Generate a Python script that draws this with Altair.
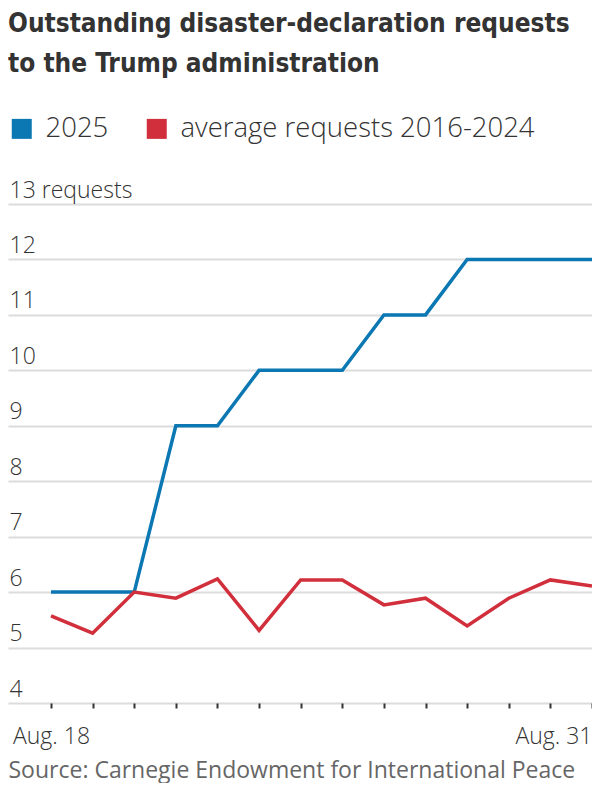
import altair as alt
import pandas as pd

# ---- data ----
days = list(range(18, 32))  # Aug. 18 .. Aug. 31
series_names = ["2025", "average requests 2016-2024"]
values_2025 = [6, 6, 6, 9, 9, 10, 10, 10, 11, 11, 12, 12, 12, 12]
values_avg = [5.57, 5.26, 6.0, 5.89, 6.24, 5.31, 6.22, 6.22, 5.77, 5.89, 5.39, 5.89, 6.22, 6.11]
series_colors = ["#0b78b3", "#d12f3b"]
y_ticks = [4, 5, 6, 7, 8, 9, 10, 11, 12, 13]
x_ticks = days
x_labels = {18: "Aug. 18", 31: "Aug. 31"}
title_lines = ["Outstanding disaster-declaration requests", "to the Trump administration"]
source_text = "Source: Carnegie Endowment for International Peace"

rows = []
for d, v in zip(days, values_2025):
    rows.append({"day": d, "value": v, "series": series_names[0]})
for d, v in zip(days, values_avg):
    rows.append({"day": d, "value": v, "series": series_names[1]})
df = pd.DataFrame(rows)

NARROW = "Liberation Sans Narrow, DejaVu Sans Condensed, Roboto Condensed, Arial Narrow, Roboto, sans-serif"
SANS = "Open Sans, Noto Sans, sans-serif"

x_label_expr = " : ".join(
    [f"datum.value == {k} ? '{v}'" for k, v in x_labels.items()]
) + " : ''"

chart = (
    alt.Chart(df)
    .mark_line(strokeWidth=3.5, strokeJoin="miter")
    .encode(
        x=alt.X(
            "day:Q",
            scale=alt.Scale(domain=[16.967, 31], nice=False, zero=False),
            axis=alt.Axis(
                values=x_ticks,
                labelExpr=x_label_expr,
                grid=False,
                domain=False,
                ticks=True,
                tickSize=5,
                tickWidth=2,
                tickColor="#333333",
                labelAlign={"condition": {"test": "datum.value == 31", "value": "right"}, "value": "center"},
                labelFont=SANS,
                labelFontSize=23,
                labelFontWeight=300,
                labelColor="#333333",
                labelBaseline="alphabetic",
                labelPadding=35,
                labelOverlap=False,
                labelBound=False,
                title=source_text,
                titleFont=SANS,
                titleFontSize=23,
                titleFontWeight="normal",
                titleColor="#666666",
                titleAnchor="start",
                titleAlign="left",
                titleBaseline="alphabetic",
                titleX=0,
                titleY=74,
            ),
        ),
        y=alt.Y(
            "value:Q",
            scale=alt.Scale(domain=[4, 13], nice=False, zero=False),
            axis=alt.Axis(
                values=y_ticks,
                labelExpr="datum.value == 13 ? '13 requests' : datum.label",
                grid=True,
                gridColor="#dcdcdc",
                gridWidth=2,
                domain=False,
                ticks=False,
                labelAlign="left",
                labelBaseline="alphabetic",
                labelPadding=-1,
                labelOffset=-7,
                labelFont=SANS,
                labelFontSize=23,
                labelFontWeight=300,
                labelColor="#333333",
                title=None,
            ),
        ),
        color=alt.Color(
            "series:N",
            scale=alt.Scale(domain=series_names, range=series_colors),
            legend=alt.Legend(
                title=None,
                orient="none",
                legendX=0,
                legendY=-89,
                direction="horizontal",
                symbolType="square",
                symbolSize=100,
                symbolStrokeWidth=10,
                symbolOpacity=1,
                labelFont=SANS,
                labelFontSize=27.5,
                labelFontWeight=300,
                labelColor="#333333",
                labelOffset=10,
                labelLimit=0,
                columnPadding=22,
            ),
        ),
    )
    .properties(
        width=584,
        height=499,
        autosize=alt.AutoSizeParams(type="none"),
        padding={"left": 0, "top": 196, "right": 0, "bottom": 80},
        title=alt.TitleParams(
            text=title_lines,
            anchor="start",
            font=NARROW,
            fontSize=26,
            fontWeight="bold",
            color="#333333",
            lineHeight=40,
            offset=38,
        ),
    )
    .configure(background="white", view=alt.ViewConfig(stroke=None))
)

chart.save("out.html", embed_options={"renderer": "svg", "actions": False})
